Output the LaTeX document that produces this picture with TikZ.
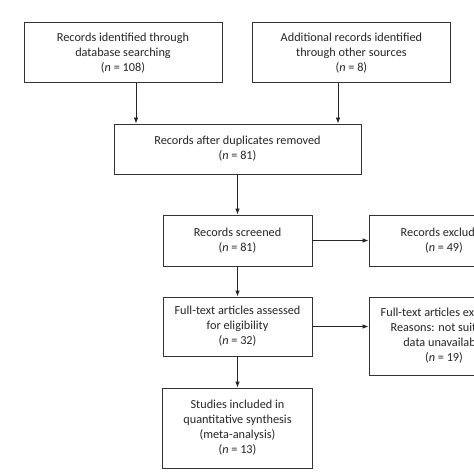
\documentclass[tikz,border=0pt]{standalone}
\usepackage{fontspec}
\setmainfont{Carlito}
\usetikzlibrary{arrows.meta}
\tikzset{
  box/.style={draw=black!80, line width=0.8bp, align=center, inner sep=0pt,
    font=\fontsize{12.3}{15}\selectfont, text=black!85},
  arr/.style={draw=black!85, line width=0.8bp, -{Latex[length=6bp,width=4.5bp]}}
}
\begin{document}
\begin{tikzpicture}[x=1bp,y=-1bp]
\useasboundingbox (0,0) rectangle (474,474);
\clip (0,0) rectangle (474,474);
\fill[white] (0,0) rectangle (474,474);
\node[box, minimum width=198bp, minimum height=60bp] (b1) at (123,52.7)
  {Records identified through\\database searching\\(\textit{n} = 108)};
\node[box, minimum width=197.3bp, minimum height=60bp] (b2) at (351.4,52.7)
  {Additional records identified\\through other sources\\(\textit{n} = 8)};
\node[box, minimum width=247bp, minimum height=50bp] (b3) at (237.5,149)
  {Records after duplicates removed\\(\textit{n} = 81)};
\node[box, minimum width=149bp, minimum height=51bp] (b4) at (237.5,240.5)
  {Records screened\\(\textit{n} = 81)};
\node[box, minimum width=150bp, minimum height=51bp] (b5) at (444,240.5)
  {Records excluded\\(\textit{n} = 49)};
\node[box, minimum width=149bp, minimum height=59bp] (b6) at (237.5,326.5)
  {Full-text articles assessed\\for eligibility\\(\textit{n} = 32)};
\node[box, minimum width=150bp, minimum height=78bp] (b7) at (444,336)
  {Full-text articles excluded\\Reasons: not suitable\\data unavailable\\(\textit{n} = 19)};
\node[box, minimum width=150bp, minimum height=80bp] (b8) at (237.5,428)
  {Studies included in\\quantitative synthesis\\(meta-analysis)\\(\textit{n} = 13)};
\draw[arr] (b1.south -| 136,0) -- (b3.north -| 136,0);
\draw[arr] (b2.south -| 338,0) -- (b3.north -| 338,0);
\draw[arr] (b3) -- (b4);
\draw[arr] (b4) -- (b5);
\draw[arr] (b4) -- (b6);
\draw[arr] (b6) -- (b7.west |- b6.east);
\draw[arr] (b6) -- (b8);
\end{tikzpicture}
\end{document}
